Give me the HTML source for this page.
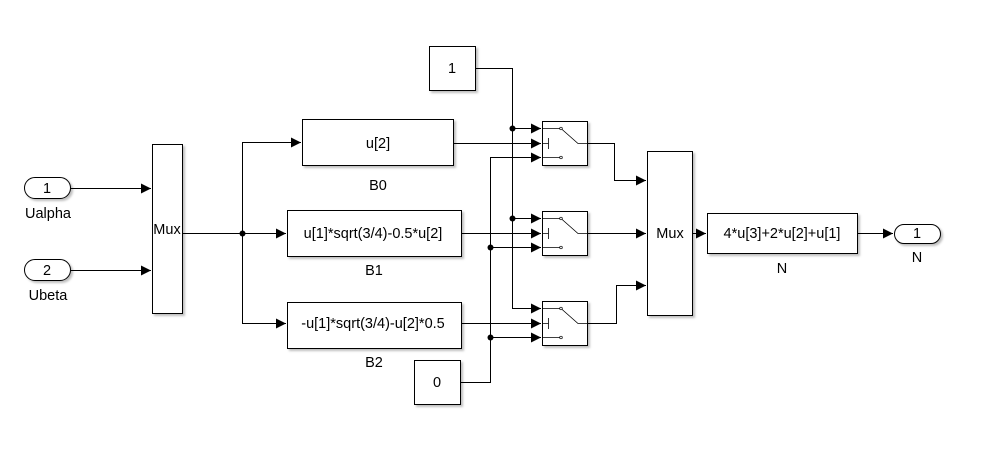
<!DOCTYPE html>
<html><head><style>html,body{margin:0;padding:0;background:#fff}svg{display:block}text{font-family:"Liberation Sans",sans-serif;font-size:14.5px;fill:#000}</style></head>
<body>
<svg width="988" height="450" viewBox="0 0 988 450" xmlns="http://www.w3.org/2000/svg">
<defs>
<marker id="a" markerWidth="10" markerHeight="10" refX="10" refY="5" orient="auto" markerUnits="userSpaceOnUse"><path d="M0,0 L10,5 L0,10 z" fill="#000"/></marker>
<filter id="s" x="-10%" y="-10%" width="130%" height="130%"><feDropShadow dx="2" dy="2" stdDeviation="1" flood-color="#000" flood-opacity="0.25"/></filter>
</defs>
<g fill="#fff" stroke="#000" stroke-width="1" filter="url(#s)">
<rect x="24.5" y="177.5" width="46" height="21" rx="10.5"/>
<rect x="24.5" y="259.5" width="46" height="21" rx="10.5"/>
<rect x="152.5" y="144.5" width="30" height="169"/>
<rect x="302.5" y="119.5" width="151" height="46"/>
<rect x="287.5" y="210.5" width="174" height="46"/>
<rect x="287.5" y="302.5" width="174" height="46"/>
<rect x="429.5" y="46.5" width="46" height="44"/>
<rect x="414.5" y="360.5" width="46" height="44"/>
<rect x="542.5" y="121.5" width="45" height="44"/>
<rect x="542.5" y="211.5" width="45" height="44"/>
<rect x="542.5" y="301.5" width="45" height="44"/>
<rect x="647.5" y="151.5" width="45" height="164"/>
<rect x="707.5" y="213.5" width="150" height="40"/>
<rect x="894.5" y="224.5" width="46" height="19" rx="9.5"/>
</g>
<g stroke="#000" fill="none" stroke-width="1">
<path d="M71,188.5 H151" marker-end="url(#a)"/>
<path d="M71,270.5 H151" marker-end="url(#a)"/>
<path d="M183,233.5 H286" marker-end="url(#a)"/>
<path d="M242.5,233 V142.5 H301" marker-end="url(#a)"/>
<path d="M242.5,233 V323.5 H286" marker-end="url(#a)"/>
<path d="M476,68.5 H512.5 V308.5 H541" marker-end="url(#a)"/>
<path d="M512.5,128.5 H541" marker-end="url(#a)"/>
<path d="M512.5,218.5 H541" marker-end="url(#a)"/>
<path d="M461,382.5 H490.5 V157.5 H541" marker-end="url(#a)"/>
<path d="M490.5,247.5 H541" marker-end="url(#a)"/>
<path d="M490.5,337.5 H541" marker-end="url(#a)"/>
<path d="M454,143.5 H541" marker-end="url(#a)"/>
<path d="M462,233.5 H541" marker-end="url(#a)"/>
<path d="M462,323.5 H541" marker-end="url(#a)"/>
<path d="M588,143.5 H614.5 V180.5 H646" marker-end="url(#a)"/>
<path d="M588,233.5 H646" marker-end="url(#a)"/>
<path d="M588,323.5 H616.5 V285.5 H646" marker-end="url(#a)"/>
<path d="M693,233.5 H706" marker-end="url(#a)"/>
<path d="M858,233.5 H893" marker-end="url(#a)"/>
<g stroke-width="0.8">
<path d="M543,128.5 H561 L578,143.5 H587 M543,143.5 H548.5 M548.5,138 V149 M543,157.5 H561"/>
<path d="M543,218.5 H561 L578,233.5 H587 M543,233.5 H548.5 M548.5,228 V239 M543,247.5 H561"/>
<path d="M543,308.5 H561 L578,323.5 H587 M543,323.5 H548.5 M548.5,318 V329 M543,337.5 H561"/>
</g>
</g>
<g fill="#000">
<circle cx="242.5" cy="233.5" r="3"/>
<circle cx="512.5" cy="128.5" r="3"/><circle cx="512.5" cy="218.5" r="3"/>
<circle cx="490.5" cy="247.5" r="3"/><circle cx="490.5" cy="337.5" r="3"/>
<g fill="#fff" stroke="#000" stroke-width="0.7">
<circle cx="561" cy="128.5" r="1.3"/><circle cx="561" cy="157.5" r="1.3"/>
<circle cx="561" cy="218.5" r="1.3"/><circle cx="561" cy="247.5" r="1.3"/>
<circle cx="561" cy="308.5" r="1.3"/><circle cx="561" cy="337.5" r="1.3"/>
</g>
</g>
<text x="47" y="193" text-anchor="middle">1</text>
<text x="47" y="275" text-anchor="middle">2</text>
<text x="48" y="218" text-anchor="middle">Ualpha</text>
<text x="48" y="300" text-anchor="middle">Ubeta</text>
<text x="167" y="234" text-anchor="middle">Mux</text>
<text x="378" y="148" text-anchor="middle">u[2]</text>
<text x="378" y="190" text-anchor="middle">B0</text>
<text x="373" y="238" text-anchor="middle">u[1]*sqrt(3/4)-0.5*u[2]</text>
<text x="374" y="275" text-anchor="middle">B1</text>
<text x="373" y="328" text-anchor="middle">-u[1]*sqrt(3/4)-u[2]*0.5</text>
<text x="374" y="367" text-anchor="middle">B2</text>
<text x="452" y="73" text-anchor="middle">1</text>
<text x="437" y="387" text-anchor="middle">0</text>
<text x="670" y="238" text-anchor="middle">Mux</text>
<text x="782" y="238" text-anchor="middle">4*u[3]+2*u[2]+u[1]</text>
<text x="782" y="273" text-anchor="middle">N</text>
<text x="917" y="238" text-anchor="middle">1</text>
<text x="917" y="262" text-anchor="middle">N</text>
</svg>
</body></html>
